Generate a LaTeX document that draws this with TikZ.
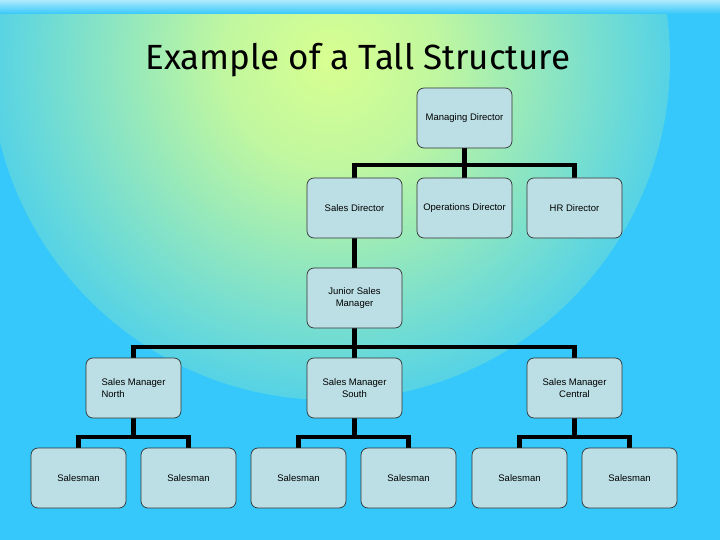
\documentclass[tikz,border=0pt]{standalone}
\usepackage{fontspec}
\setmainfont{Liberation Sans}
\newfontfamily\titlefont{Fira Sans}
\definecolor{bg}{HTML}{36C8FA}
\definecolor{glow}{HTML}{D8FF90}
\definecolor{boxfill}{HTML}{BCDFE5}
\pgfdeclareradialshading{glowshade}{\pgfpoint{0bp}{0bp}}{color(0bp)=(glow); color(8bp)=(glow!85!bg); color(30bp)=(bg); color(50bp)=(bg)}
\begin{document}
\begin{tikzpicture}[x=1pt,y=-1pt,
 box/.style={draw=black!80,line width=0.7pt,fill=boxfill,rounded corners=7pt,minimum width=95pt,minimum height=60pt,font=\fontsize{9.5}{11.5}\selectfont,align=center,inner sep=2pt},
 con/.style={line width=4.5pt,black}]
\useasboundingbox (0,0) rectangle (720,540);
\fill[bg] (0,0) rectangle (720,540);
\shade[shading=glowshade] (330,60) circle (340);
\fill[top color=white!60!bg,bottom color=bg] (0,0) rectangle (720,14);
\node[font=\titlefont\fontsize{35}{38}\selectfont] (title) at (358,60) {Example of a Tall Structure};
\draw[con] (464.5,148) -- ++(0,17) coordinate (b1);
\draw[con] (354.5,178) |- (b1) -| (574.5,178);
\draw[con] (b1) -- (464.5,178);
\draw[con] (354.5,238) -- (354.5,268);
\draw[con] (354.5,328) -- ++(0,19) coordinate (b2);
\draw[con] (133.5,358) |- (b2) -| (574.5,358);
\draw[con] (b2) -- (354.5,358);
\foreach \x/\a/\b in {133.5/78.5/188.5,354.5/298.5/408.5,574.5/519.5/629.5}{
  \draw[con] (\x,418) -- (\x,437);
  \draw[con] (\a,448) |- (\x,437) -| (\b,448);
}
\node[box] (md) at (464.5,118) {Managing Director};
\node[box] (sd) at (354.5,208) {Sales Director};
\node[box] (od) at (464.5,208) {Operations Director};
\node[box] (hr) at (574.5,208) {HR Director};
\node[box] (js) at (354.5,298) {Junior Sales\\Manager};
\node[box,align=left] (sn) at (133.5,388) {Sales Manager\\North};
\node[box] (ss) at (354.5,388) {Sales Manager\\South};
\node[box] (sc) at (574.5,388) {Sales Manager\\Central};
\node[box] (s1) at (78.5,478) {Salesman};
\node[box] (s2) at (188.5,478) {Salesman};
\node[box] (s3) at (298.5,478) {Salesman};
\node[box] (s4) at (408.5,478) {Salesman};
\node[box] (s5) at (519.5,478) {Salesman};
\node[box] (s6) at (629.5,478) {Salesman};
\end{tikzpicture}
\end{document}
